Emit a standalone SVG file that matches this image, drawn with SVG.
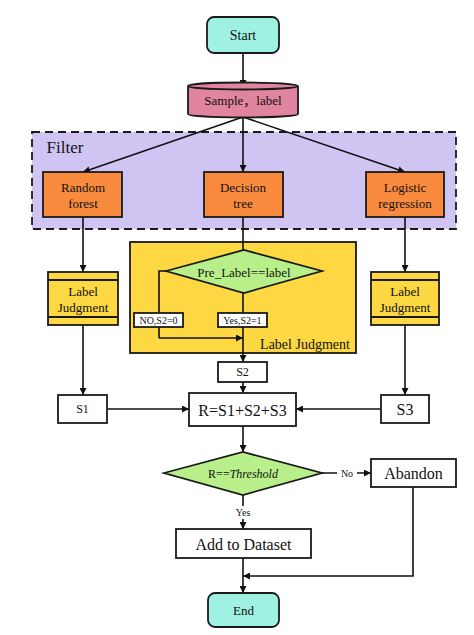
<svg xmlns="http://www.w3.org/2000/svg" width="474" height="635" viewBox="0 0 474 635" font-family="'Liberation Serif','Times New Roman',serif">
<defs>
<marker id="ah" viewBox="0 0 10 10" refX="10" refY="5" markerWidth="7" markerHeight="7" markerUnits="userSpaceOnUse" orient="auto"><path d="M0,0 L10,5 L0,10 Z" fill="#111"/></marker>
<style>
text{font-family:'Liberation Serif','Noto Sans CJK SC',serif;fill:#111;text-anchor:middle;dominant-baseline:central}
.s{stroke:#1a1a1a;stroke-width:1.8}
.c{fill:none;stroke:#111;stroke-width:1.6;marker-end:url(#ah)}
.l{fill:none;stroke:#111;stroke-width:1.6}
.w{fill:#fff}
.or{fill:#f98b3f}
.ye{fill:#fdd843}
.gr{fill:#b8ef8a}
</style>
</defs>
<rect width="474" height="635" fill="#fff"/>
<g id="filter">
<rect x="32" y="132" width="424" height="97" fill="#cfc4f2" stroke="#1a1a1a" stroke-width="1.8" stroke-dasharray="8,5"/>
<text x="65" y="147" font-size="17">Filter</text>
</g>
<g id="labeljudgment-group">
<rect x="130" y="242" width="226" height="111" class="s ye"/>
<text x="305" y="344" font-size="14">Label Judgment</text>
</g>
<g id="connectors">
<path class="c" d="M243,53 V87"/>
<path class="c" d="M243,117 L83,172"/>
<path class="c" d="M243,117 V172"/>
<path class="c" d="M243,117 L405,172"/>
<path class="c" d="M83,217 V272"/>
<path class="c" d="M405,217 V272"/>
<path class="l" d="M243,217 V250"/>
<path class="c" d="M83,325 V395"/>
<path class="c" d="M405,325 V395"/>
<path class="l" d="M166,271 H159 V338"/>
<path class="c" d="M159,338 H243"/>
<path class="c" d="M243,293 V362"/>
<path class="c" d="M243,382 V393"/>
<path class="c" d="M107,409 H189"/>
<path class="c" d="M381,409 H296"/>
<path class="c" d="M243,426 V452"/>
<path class="c" d="M322,473 H371"/>
<path class="c" d="M243,495 V529"/>
<path class="c" d="M243,558 V593"/>
<path class="c" d="M413,487 V576 H243"/>
<rect x="337" y="466" width="20" height="14" fill="#fff"/>
<text x="347" y="473" font-size="10">No</text>
<rect x="232" y="506" width="22" height="13" fill="#fff"/>
<text x="243" y="512" font-size="10">Yes</text>
</g>
<g id="start">
<rect x="207" y="17" width="72" height="36" rx="7" fill="#9ff2e3" class="s"/>
<text x="243" y="35" font-size="14">Start</text>
</g>
<g id="sample">
<path d="M188,86 V114 A55,3.5 0 0 0 298,114 V86" fill="#e0849f" class="s"/>
<ellipse cx="243" cy="86" rx="55" ry="3.5" fill="#e0849f" class="s"/>
<text x="243" y="100" font-size="13">Sample，label</text>
</g>
<g id="random-forest">
<rect x="43" y="172" width="79" height="45" class="s or"/>
<text x="83" y="187" font-size="13">Random</text>
<text x="83" y="203" font-size="13">forest</text>
</g>
<g id="decision-tree">
<rect x="204" y="172" width="79" height="45" class="s or"/>
<text x="243" y="187" font-size="13">Decision</text>
<text x="243" y="203" font-size="13">tree</text>
</g>
<g id="logistic-regression">
<rect x="366" y="172" width="78" height="45" class="s or"/>
<text x="405" y="187" font-size="13">Logistic</text>
<text x="405" y="203" font-size="13">regression</text>
</g>
<g id="label-judgment-left">
<rect x="48" y="272" width="70" height="53" class="s ye"/>
<path d="M48,280 H118 M48,317 H118" class="s"/>
<text x="83" y="291" font-size="13">Label</text>
<text x="83" y="307" font-size="13">Judgment</text>
</g>
<g id="label-judgment-right">
<rect x="371" y="272" width="68" height="53" class="s ye"/>
<path d="M371,280 H439 M371,317 H439" class="s"/>
<text x="405" y="291" font-size="13">Label</text>
<text x="405" y="307" font-size="13">Judgment</text>
</g>
<g id="pre-label">
<polygon points="166,271 244,250 322,271 244,293" class="s gr"/>
<text x="244" y="272" font-size="13">Pre_Label==label</text>
</g>
<g id="no-s2">
<rect x="134" y="313" width="49" height="14" class="s w" stroke-width="1.4"/>
<text x="158.5" y="320" font-size="10">NO,S2=0</text>
</g>
<g id="yes-s2">
<rect x="218" y="313" width="49" height="14" class="s w" stroke-width="1.4"/>
<text x="242.5" y="320" font-size="10">Yes,S2=1</text>
</g>
<g id="s2">
<rect x="218" y="362" width="49" height="20" class="s w"/>
<text x="242.5" y="372" font-size="12">S2</text>
</g>
<g id="s1">
<rect x="58" y="395" width="49" height="28" class="s w"/>
<text x="82.5" y="409" font-size="12">S1</text>
</g>
<g id="sum">
<rect x="189" y="393" width="107" height="33" class="s w"/>
<text x="242.5" y="410" font-size="16">R=S1+S2+S3</text>
</g>
<g id="s3">
<rect x="381" y="395" width="48" height="28" class="s w"/>
<text x="405" y="409" font-size="16">S3</text>
</g>
<g id="threshold">
<polygon points="164,473 243,452 322,473 243,495" class="s gr"/>
<text x="243" y="474" font-size="12">R==<tspan font-style="italic">Threshold</tspan></text>
</g>
<g id="abandon">
<rect x="371" y="459" width="85" height="28" class="s w"/>
<text x="413.5" y="473" font-size="16">Abandon</text>
</g>
<g id="add-to-dataset">
<rect x="176" y="529" width="135" height="29" class="s w"/>
<text x="243.5" y="544" font-size="16">Add to Dataset</text>
</g>
<g id="end">
<rect x="208" y="593" width="71" height="34" rx="7" fill="#9ff2e3" class="s"/>
<text x="243.5" y="610" font-size="13">End</text>
</g>
</svg>
